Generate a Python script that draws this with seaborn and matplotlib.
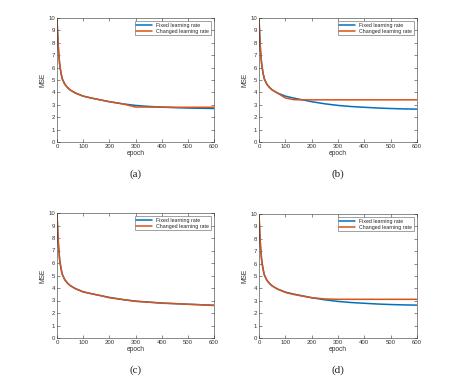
import matplotlib.pyplot as plt
import numpy as np
import pandas as pd
import seaborn as sns

sns.set_style('ticks')
plt.rcParams['font.family'] = ['Liberation Sans', 'DejaVu Sans']

epoch = [0, 3, 6, 10, 15, 20, 30, 40, 50, 70, 100, 130, 160, 200, 250, 300, 350, 400, 450, 500, 550, 600]

fixed_a = [10, 8.4, 7.3, 6.3, 5.6, 5.1, 4.65, 4.4, 4.2, 3.95, 3.7, 3.55, 3.42, 3.25, 3.08, 2.95, 2.87, 2.81, 2.77, 2.74, 2.72, 2.7]
changed_a = [10, 8.4, 7.3, 6.3, 5.6, 5.1, 4.65, 4.4, 4.2, 3.95, 3.7, 3.55, 3.42, 3.25, 3.08, 2.82, 2.82, 2.82, 2.8, 2.8, 2.8, 2.8]

fixed_b = [10, 8.4, 7.3, 6.3, 5.6, 5.1, 4.65, 4.4, 4.2, 3.95, 3.7, 3.55, 3.42, 3.25, 3.08, 2.95, 2.86, 2.8, 2.74, 2.7, 2.67, 2.65]
changed_b = [10, 8.4, 7.3, 6.3, 5.6, 5.1, 4.65, 4.4, 4.2, 3.95, 3.55, 3.42, 3.4, 3.4, 3.4, 3.4, 3.4, 3.4, 3.4, 3.4, 3.4, 3.4]

fixed_c = [10, 8.4, 7.3, 6.3, 5.6, 5.1, 4.65, 4.4, 4.2, 3.95, 3.7, 3.55, 3.42, 3.25, 3.08, 2.95, 2.87, 2.8, 2.75, 2.7, 2.66, 2.62]
changed_c = [10, 8.4, 7.3, 6.3, 5.6, 5.1, 4.65, 4.4, 4.2, 3.95, 3.68, 3.55, 3.42, 3.22, 3.08, 2.93, 2.87, 2.78, 2.75, 2.7, 2.66, 2.6]

fixed_d = [10, 8.4, 7.3, 6.3, 5.6, 5.1, 4.65, 4.4, 4.2, 3.95, 3.7, 3.55, 3.42, 3.25, 3.08, 2.95, 2.86, 2.8, 2.74, 2.7, 2.67, 2.65]
changed_d = [10, 8.4, 7.3, 6.3, 5.6, 5.1, 4.65, 4.4, 4.2, 3.95, 3.68, 3.52, 3.4, 3.25, 3.15, 3.12, 3.12, 3.12, 3.12, 3.12, 3.12, 3.12]

panels = [
    ('(a)', fixed_a, changed_a),
    ('(b)', fixed_b, changed_b),
    ('(c)', fixed_c, changed_c),
    ('(d)', fixed_d, changed_d),
]

W, H = 474, 391
# axes boxes in pixels: left, top, right, bottom
boxes = [(57, 18, 214, 142), (259, 18, 417, 142), (57, 213, 214, 338), (259, 214, 417, 338)]

fig = plt.figure(figsize=(W / 100, H / 100), dpi=100)
colors = ['#0072BD', '#D95319']

for (cap, fx, ch), (l, t, r, b) in zip(panels, boxes):
    ax = fig.add_axes([l / W, 1 - b / H, (r - l) / W, (b - t) / H])
    df = pd.DataFrame({
        'epoch': epoch + epoch,
        'MSE': fx + ch,
        'kind': ['Fixed learning rate'] * len(epoch) + ['Changed learning rate'] * len(epoch),
    })
    sns.lineplot(data=df, x='epoch', y='MSE', hue='kind', palette=colors, linewidth=1.1, ax=ax)
    ax.set_xlim(0, 600)
    ax.set_ylim(0, 10)
    ax.set_xticks(range(0, 601, 100))
    ax.set_yticks(range(0, 11))
    ax.tick_params(direction='in', length=2, width=0.4, labelsize=4.3, pad=1.5, colors='#333333',
                   top=True, right=True)
    for s in ax.spines.values():
        s.set_linewidth(0.4)
        s.set_color('#333333')
    ax.set_xlabel('epoch', fontsize=4.8, labelpad=1, color='#333333')
    ax.set_ylabel('MSE', fontsize=4.8, labelpad=1, color='#333333')
    leg = ax.legend(loc='upper right', fontsize=3.8, frameon=True, fancybox=False,
                    borderpad=0.3, handlelength=3, labelspacing=0.2, borderaxespad=0.6)
    leg.get_frame().set_linewidth(0.4)
    leg.get_frame().set_edgecolor('#333333')
    cx = (l + r) / 2 / W
    cy = 1 - (b + 32) / H
    fig.text(cx, cy, cap, ha='center', va='center', fontsize=8, family='Liberation Serif')

fig.savefig('out.png', dpi=100)
